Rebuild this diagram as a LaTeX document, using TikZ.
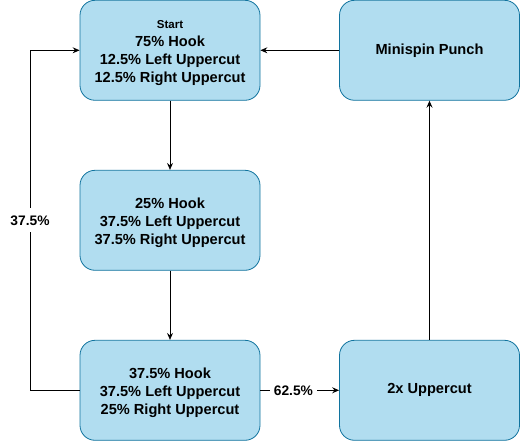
\documentclass[tikz,border=0pt]{standalone}
\usepackage{fontspec}
\setmainfont{Liberation Sans}
\usetikzlibrary{arrows.meta}
\definecolor{boxfill}{HTML}{B1DDF0}
\definecolor{boxline}{HTML}{10739E}
\begin{document}
\begin{tikzpicture}[x=1pt,y=-1pt,
  box/.style={draw=boxline,fill=boxfill,rounded corners=15pt,minimum width=180pt,minimum height=100pt,inner sep=0pt,line width=0.8pt},
  txt/.style={inner sep=0pt,align=center,font=\fontsize{14.6pt}{18pt}\selectfont\bfseries},
  conn/.style={draw=black,line width=0.8pt,-{Stealth[length=7pt,width=6pt,inset=2.5pt]}},
  lbl/.style={fill=white,font=\fontsize{13.8pt}{15pt}\selectfont\bfseries,inner xsep=4pt,inner ysep=7pt}]
\useasboundingbox (0,0) rectangle (520,441);
\node[box] (start) at (170,50.3) {};
\node[txt] (startT) at ([yshift=-3pt]start.center) {{\fontsize{11.5pt}{15pt}\selectfont Start}\\75\% Hook\\12.5\% Left Uppercut\\12.5\% Right Uppercut};
\node[box] (mini) at (429.5,50.3) {};
\node[txt] (miniT) at (mini.center) {Minispin Punch};
\node[box] (mid) at (170,220.3) {};
\node[txt] (midT) at ([yshift=-2pt]mid.center) {25\% Hook\\37.5\% Left Uppercut\\37.5\% Right Uppercut};
\node[box] (bot) at (170,390.3) {};
\node[txt] (botT) at ([yshift=-2pt]bot.center) {37.5\% Hook\\37.5\% Left Uppercut\\25\% Right Uppercut};
\node[box] (upp) at (429.5,390.3) {};
\node[txt] (uppT) at (upp.center) {2x Uppercut};
\draw[conn] (start) -- (mid);
\draw[conn] (mid) -- (bot);
\draw[conn] (bot) -- node[lbl,pos=0.42]{62.5\%} (upp);
\draw[conn] (upp) -- (mini);
\draw[conn] (mini) -- (start);
\draw[conn] (bot.west) -- (30,390.3) -- node[lbl,pos=0.5]{37.5\%} (30,50.3) -- (start.west);
\end{tikzpicture}
\end{document}
